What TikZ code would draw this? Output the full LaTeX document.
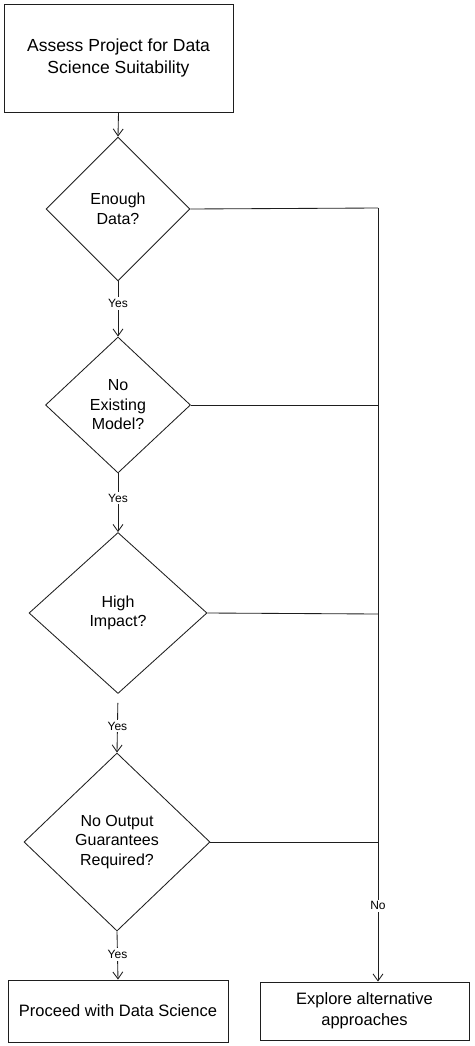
\documentclass[tikz,border=0pt]{standalone}
\usepackage{fontspec}
\setmainfont{Liberation Sans}
\usetikzlibrary{shapes.geometric,arrows.meta}
\definecolor{ink}{HTML}{1E1E1E}
\begin{document}
\begin{tikzpicture}[x=1pt,y=-1pt,
  line/.style={draw=ink, line width=0.85pt},
  box/.style={draw=ink, line width=0.85pt, align=center, inner sep=0pt,
    font=\fontsize{16.5}{21}\selectfont, text=black},
  dec/.style={diamond, draw=ink, line width=0.85pt, align=center, inner sep=0pt,
    font=\fontsize{16}{19.5}\selectfont, text=black},
  arr/.style={line, -{Straight Barb[length=7pt,width=10pt]}},
  lab/.style={fill=white, font=\fontsize{12}{14}\selectfont, inner sep=2pt, text=black}]
\useasboundingbox (0,0) rectangle (474,1046);

\node[box, minimum width=229, minimum height=108, font=\fontsize{17.5}{22}\selectfont] (start) at (118.5,58) {Assess Project for Data\\Science Suitability};
\node[dec, minimum width=144, minimum height=144] (d1) at (118,209) {Enough\\Data?};
\node[dec, minimum width=145, minimum height=136] (d2) at (118,405) {No\\Existing\\Model?};
\node[dec, minimum width=178, minimum height=161] (d3) at (118,613) {High\\Impact?};
\node[dec, minimum width=186, minimum height=178] (d4) at (117,842) {No Output\\Guarantees\\Required?};
\node[box, minimum width=220, minimum height=62] (proceed) at (118,1011) {Proceed with Data Science};
\node[box, minimum width=209, minimum height=58] (explore) at (364.5,1011) {Explore alternative\\approaches};

\coordinate (c1) at (378,208);
\coordinate (c2) at (378,405);
\coordinate (c3) at (378,614);
\coordinate (c4) at (378,842);

\draw[arr] (start.south) -- (d1.north);
\draw[arr] (d1.south) -- node[lab, pos=0.4] (y1) {Yes} (d2.north);
\draw[arr] (d2.south) -- node[lab, pos=0.42] (y2) {Yes} (d3.north);
\draw[arr, shorten <=9pt] (d3.south) -- node[lab, pos=0.55] (y3) {Yes} (d4.north);
\draw[arr] (d4.south) -- node[lab, pos=0.48] (y4) {Yes} (proceed.north);

\draw[line] (d1.east) -- (c1);
\draw[line] (d2.east) -- (c2);
\draw[line] (d3.east) -- (c3);
\draw[line] (d4.east) -- (c4);
\draw[arr] (c1) -- node[lab, pos=0.902] (no) {No} (c1 |- explore.north);
\end{tikzpicture}
\end{document}
